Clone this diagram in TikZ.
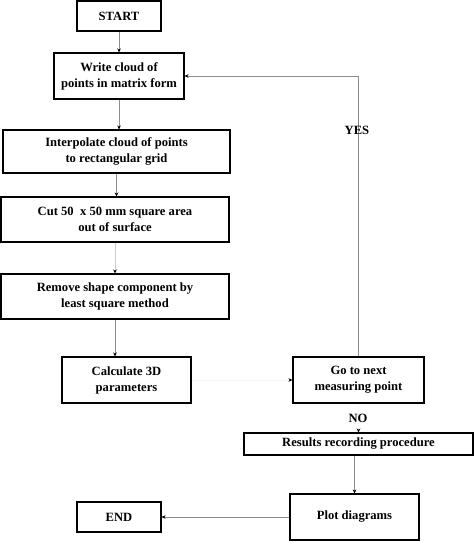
\documentclass[tikz,border=0pt]{standalone}
\usepackage{fontspec}
\setmainfont{Liberation Serif}
\usepackage{tikz}
\usetikzlibrary{arrows.meta}

\tikzset{
  stepbox/.style={draw=black, line width=1.1pt, fill=white, align=center,
    inner sep=0pt, font=\fontsize{12.6}{16}\selectfont\bfseries},
  flow/.style={draw=black!45, line width=0.8pt,
    -{Stealth[length=4pt,width=3.6pt,black]}}
}

\begin{document}
\begin{tikzpicture}[x=1pt,y=1pt]
  % Frame
  \useasboundingbox (0,0) rectangle (474,-541);
  % Boxes
  \node[stepbox, minimum width=84, minimum height=30] (start) at (119,-16) {START};
  \node[stepbox, minimum width=130, minimum height=46] (write) at (119,-76)
    {Write cloud of\\points in matrix form};
  \node[stepbox, minimum width=227, minimum height=43] (interp) at (116.5,-151.5)
    {Interpolate cloud of points\\to rectangular grid};
  \node[stepbox, minimum width=228, minimum height=45] (cut) at (115,-219.5)
    {Cut 50 \ x 50 mm square area\\out of surface};
  \node[stepbox, minimum width=228, minimum height=45] (remove) at (115,-296.5)
    {Remove shape component by\\least square method};
  \node[stepbox, minimum width=129, minimum height=46] (calc) at (126.5,-380)
    {Calculate 3D\\parameters};
  \node[stepbox, minimum width=131, minimum height=46] (next) at (358.5,-380)
    {Go to next\\measuring point};
  \node[stepbox, minimum width=229, minimum height=22] (results) at (358.5,-444)
    {Results recording procedure};
  \node[stepbox, minimum width=129, minimum height=46] (plot) at (354.5,-517)
    {Plot diagrams};
  \node[stepbox, minimum width=84, minimum height=30] (end) at (119,-517) {END};
  % Main line
  \draw[flow] (start.south) -- (write.north);
  \draw[flow] (write.south) -- (write.south |- interp.north);
  \draw[flow] (interp.south) -- (interp.south |- cut.north);
  \draw[flow, draw=black!20] (cut.south) -- (remove.north);
  \draw[flow] (remove.south) -- (remove.south |- calc.north);
  \draw[flow, draw=black!3] (calc.east) -- (next.west);
  % Loop back
  \draw[flow] (next.north) |- (write.east);
  \node[font=\fontsize{12.6}{16}\selectfont\bfseries] (yes) at (357,-130) {YES};
  % Exit
  \draw[flow, draw=black!3] (next.south) -- (next.south |- results.north);
  \node[font=\fontsize{12.6}{16}\selectfont\bfseries] (no) at (358,-418) {NO};
  \draw[flow] (results.south -| plot.north) -- (plot.north);
  \draw[flow] (plot.west) -- (end.east);
\end{tikzpicture}
\end{document}
